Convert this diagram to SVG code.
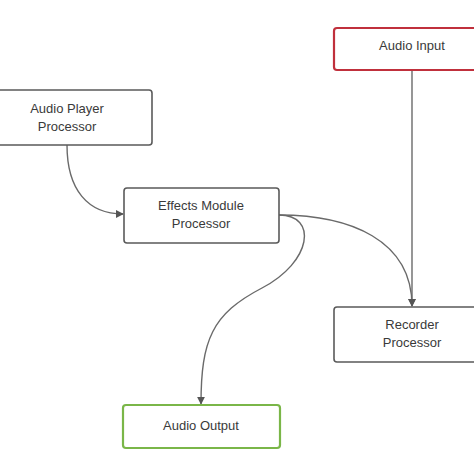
<svg xmlns="http://www.w3.org/2000/svg" width="474" height="474" viewBox="0 0 474 474">
<style>
.box{fill:#fff;stroke:#5a5a5a;stroke-width:1.6}
.red{stroke:#c0303c;stroke-width:2.2}
.green{stroke:#7ab648;stroke-width:2.2}
.lbl{font-family:"Liberation Sans",Arial,sans-serif;font-size:13px;fill:#3a3a3a;text-anchor:middle}
.conn{fill:none;stroke:#6a6a6a;stroke-width:1.4}
</style>
<defs>
<marker id="arr" viewBox="0 0 10 10" refX="9" refY="5" markerWidth="8" markerHeight="8" markerUnits="userSpaceOnUse" orient="auto">
<path d="M0,0 L10,5 L0,10 z" fill="#555"/>
</marker>
</defs>
<rect width="474" height="474" fill="#fff"/>
<g id="connectors">
<path class="conn" d="M67,145 C67,190 88,214 123,214" marker-end="url(#arr)"/>
<path class="conn" d="M279,215 C350,215 412,240 412,306" marker-end="url(#arr)"/>
<path class="conn" d="M412,70 L412,306" marker-end="url(#arr)"/>
<path class="conn" d="M279,215 C318,215 312,262 262,288 C212,314 201,340 201,404" marker-end="url(#arr)"/>
</g>
<g id="audio-player">
<rect class="box" x="-3" y="90" width="155" height="55" rx="3"/>
<text class="lbl" x="67" y="113">Audio Player</text>
<text class="lbl" x="67" y="131">Processor</text>
</g>
<g id="effects">
<rect class="box" x="124" y="188" width="155" height="55" rx="3"/>
<text class="lbl" x="201" y="210">Effects Module</text>
<text class="lbl" x="201" y="228">Processor</text>
</g>
<g id="audio-input">
<rect class="box red" x="334" y="28" width="157" height="42" rx="3"/>
<text class="lbl" x="412" y="50">Audio Input</text>
</g>
<g id="recorder">
<rect class="box" x="334" y="307" width="157" height="55" rx="3"/>
<text class="lbl" x="412" y="329">Recorder</text>
<text class="lbl" x="412" y="347">Processor</text>
</g>
<g id="audio-output">
<rect class="box green" x="123" y="405" width="157" height="43" rx="3"/>
<text class="lbl" x="201" y="430">Audio Output</text>
</g>
</svg>
